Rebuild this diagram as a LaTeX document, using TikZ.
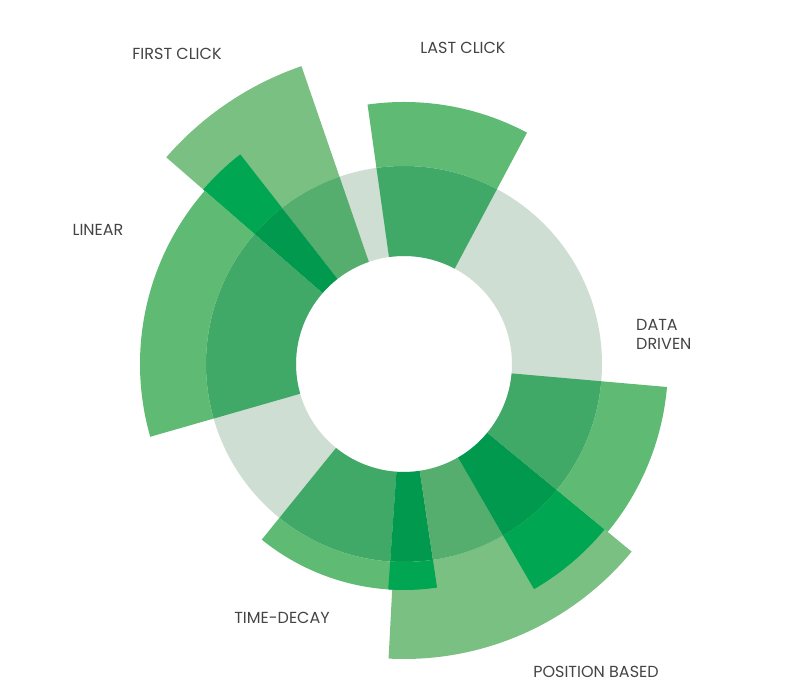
\documentclass[tikz,border=0pt]{standalone}
\usepackage{fontspec}
\setmainfont{Poppins}
\definecolor{lgray}{HTML}{CFDED2}
\definecolor{gmid}{HTML}{41A967}
\definecolor{gout}{HTML}{5FBA74}
\definecolor{glight}{HTML}{7AC083}
\definecolor{gmed}{HTML}{55AE6E}
\definecolor{gdark}{HTML}{00994E}
\definecolor{gbright}{HTML}{00A651}
\definecolor{txt}{HTML}{444444}
\newcommand{\sect}[5]{\fill[#5] ([shift={(404pt,336pt)}]#1:#3pt) arc[start angle=#1,end angle=#2,radius=#3pt] -- ([shift={(404pt,336pt)}]#2:#4pt) arc[start angle=#2,end angle=#1,radius=#4pt] -- cycle;}
\begin{document}
\begin{tikzpicture}[x=1pt,y=1pt,lab/.style={text=txt,font=\fontsize{16}{19}\selectfont,inner sep=0pt}]
\useasboundingbox (0,0) rectangle (800,700);
% base ring
\sect{0}{360}{108}{198}{lgray}
% last click
\sect{62}{98}{108}{198}{gmid}
\sect{62}{98}{198}{262}{gout}
% first click
\sect{109}{139}{198}{315}{glight}
\sect{109}{128}{108}{198}{gmed}
\sect{128}{139}{108}{198}{gdark}
\sect{128}{139}{198}{266}{gbright}
% linear
\sect{139}{196}{108}{198}{gmid}
\sect{139}{196}{198}{264}{gout}
% time decay
\sect{231}{266}{108}{198}{gmid}
\sect{231}{267}{198}{226}{gout}
\sect{266}{278.4}{108}{198}{gdark}
% position based
\sect{267}{320.5}{198}{295}{glight}
\sect{266}{278.4}{198}{226}{gbright}
\sect{278.4}{300}{108}{198}{gmed}
\sect{300}{320.5}{108}{198}{gdark}
\sect{300}{320.5}{198}{260}{gbright}
% right group
\sect{320.5}{355}{108}{198}{gmid}
\sect{320.5}{355}{198}{264}{gout}
% labels
\node[lab] (fc) at (177,646) {FIRST CLICK};
\node[lab] (lc) at (463,652) {LAST CLICK};
\node[lab] (li) at (98,470) {LINEAR};
\node[lab,align=left,anchor=west] (dd) at (636,366) {DATA\\DRIVEN};
\node[lab] (td) at (282,82) {TIME-DECAY};
\node[lab] (pb) at (596,28) {POSITION BASED};
\end{tikzpicture}
\end{document}
